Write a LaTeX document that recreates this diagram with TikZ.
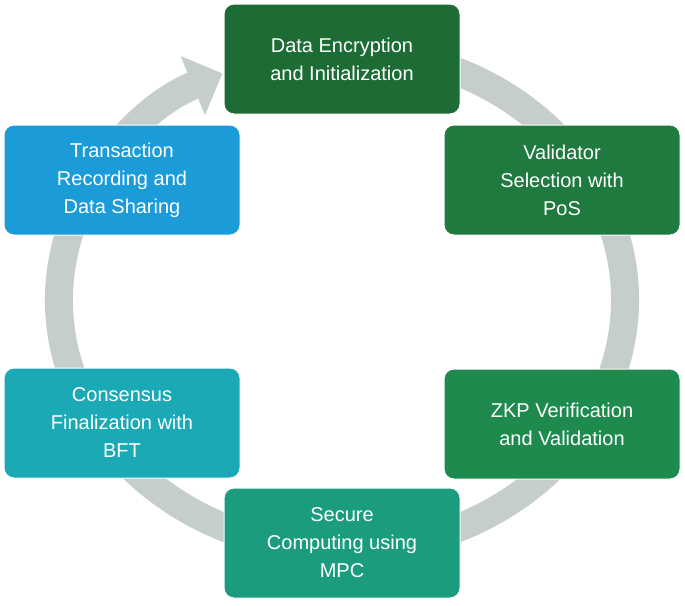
\documentclass[tikz,border=0pt]{standalone}
\usepackage{fontspec}
\setmainfont{Liberation Sans}
\usetikzlibrary{arrows.meta}
\definecolor{ring}{HTML}{C6CEC9}
\definecolor{c1}{HTML}{1D6B35}
\definecolor{c2}{HTML}{1E7A3E}
\definecolor{c3}{HTML}{1E8A4E}
\definecolor{c4}{HTML}{1C9C7E}
\definecolor{c5}{HTML}{1BA9B5}
\definecolor{c6}{HTML}{1B9BD8}
\begin{document}
\begin{tikzpicture}[x=1pt,y=-1pt,
  box/.style={draw=white,line width=1pt,rounded corners=10pt,minimum width=236pt,minimum height=110pt,text=white,align=center,font=\fontsize{20}{28}\selectfont}]
\useasboundingbox (0,0) rectangle (685,605);
\draw[ring,line width=28pt,-{Triangle[length=32pt,width=62pt]}]
  (342,300) ++(80:283 and -250) arc[start angle=80,end angle=-245,x radius=283,y radius=-250];
\node[box,fill=c1] (a) at (342,59) {Data Encryption\\and Initialization};
\node[box,fill=c2] (b) at (562,180) {Validator\\Selection with\\PoS};
\node[box,fill=c3] (c) at (562,424) {ZKP Verification\\and Validation};
\node[box,fill=c4] (d) at (342,543) {Secure\\Computing using\\MPC};
\node[box,fill=c5] (e) at (122,423) {Consensus\\Finalization with\\BFT};
\node[box,fill=c6] (f) at (122,180) {Transaction\\Recording and\\Data Sharing};
\end{tikzpicture}
\end{document}
